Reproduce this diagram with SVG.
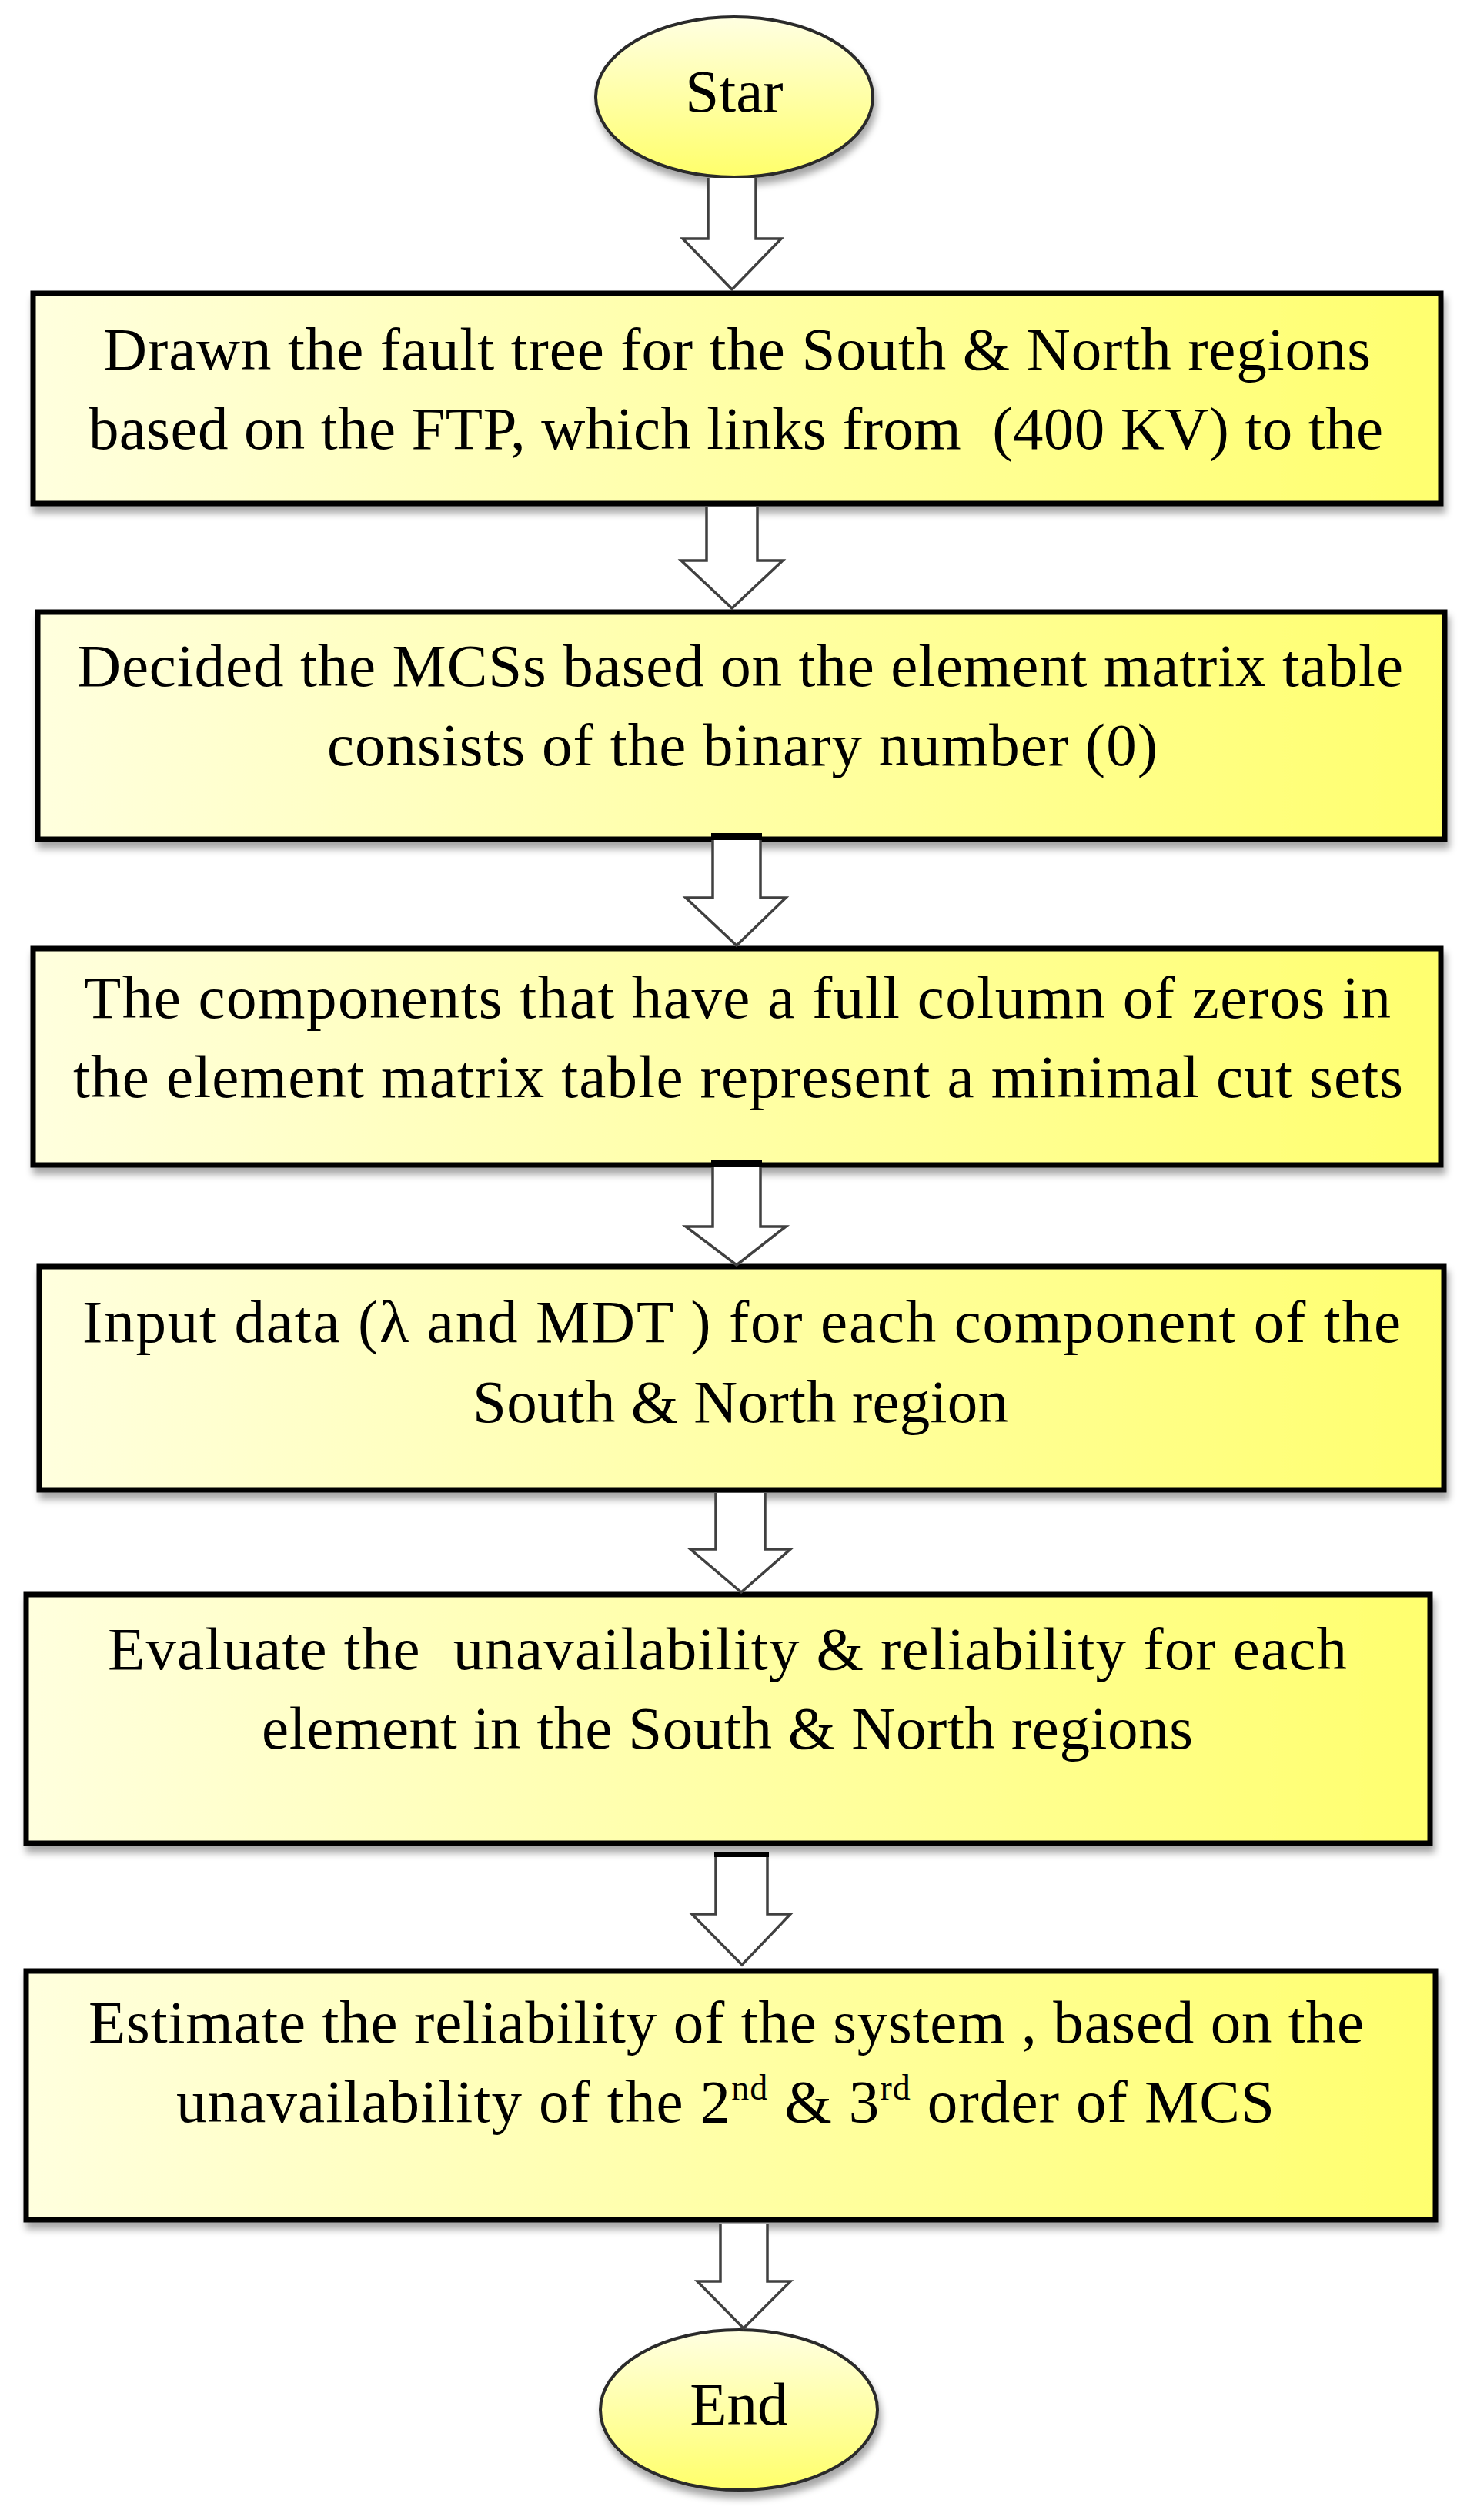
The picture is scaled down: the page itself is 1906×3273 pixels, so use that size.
<svg xmlns="http://www.w3.org/2000/svg" width="1906" height="3273" viewBox="0 0 1906 3273">
<style>
.box{stroke:#000;stroke-width:7;fill:url(#boxFill);filter:url(#shadow)}
.term{stroke:#2a2a2a;stroke-width:4;fill:url(#termFill);filter:url(#shadow)}
.t{font-family:"Liberation Serif","Times New Roman",serif;font-size:79px;fill:#000;text-anchor:middle}
.arrow{fill:#fff;stroke:#404040;stroke-width:3.5;stroke-linejoin:miter}
.cap{fill:#000}
</style>
<defs>
<linearGradient id="boxFill" x1="0" y1="0" x2="1" y2="0">
<stop offset="0" stop-color="#FFFFDE"/>
<stop offset="1" stop-color="#FFFF6E"/>
</linearGradient>
<linearGradient id="termFill" x1="0" y1="0" x2="0" y2="1">
<stop offset="0" stop-color="#FFFFE2"/>
<stop offset="1" stop-color="#FFFF6A"/>
</linearGradient>
<filter id="shadow" x="-5%" y="-10%" width="112%" height="130%">
<feDropShadow dx="3" dy="9" stdDeviation="5" flood-color="#000" flood-opacity="0.35"/>
</filter>
</defs>
<rect width="1906" height="3273" fill="#fff"/>

<g id="start">
<ellipse class="term" cx="954" cy="126" rx="180" ry="104"/>
<text class="t" x="954" y="145">Star</text>
</g>

<g id="step1">
<rect class="box" x="43" y="381" width="1829" height="273"/>
<text class="t" x="957.5" y="480" textLength="1647">Drawn the fault tree for the South &amp; North regions</text>
<text class="t" x="956" y="583" textLength="1682" xml:space="preserve">based on the FTP, which links from  (400 KV) to the</text>
</g>

<g id="step2">
<rect class="box" x="49" y="795" width="1828" height="295"/>
<text class="t" x="961.5" y="891" textLength="1723">Decided the MCSs based on the element matrix table</text>
<text class="t" x="964.5" y="994" textLength="1079">consists of the binary number (0)</text>
</g>

<g id="step3">
<rect class="box" x="43" y="1232" width="1829" height="281"/>
<text class="t" x="958" y="1322" textLength="1698">The components that have a full column of zeros in</text>
<text class="t" x="959" y="1425" textLength="1728">the element matrix table represent a minimal cut sets</text>
</g>

<g id="step4">
<rect class="box" x="51" y="1645" width="1825" height="290"/>
<text class="t" x="963.5" y="1743" textLength="1713">Input data (λ and MDT ) for each component of the</text>
<text class="t" x="962" y="1847" textLength="696">South &amp; North region</text>
</g>

<g id="step5">
<rect class="box" x="34" y="2071" width="1824" height="323"/>
<text class="t" x="945" y="2168" textLength="1610" xml:space="preserve">Evaluate the  unavailability &amp; reliability for each</text>
<text class="t" x="945" y="2271" textLength="1210">element in the South &amp; North regions</text>
</g>

<g id="step6">
<rect class="box" x="34" y="2560" width="1831" height="323"/>
<text class="t" x="943.5" y="2653" textLength="1657">Estimate the reliability of the system , based on the</text>
<text class="t" x="942.5" y="2756" textLength="1427">unavailability of the 2<tspan dy="-29" font-size="46">nd</tspan><tspan dy="29"> &amp; 3</tspan><tspan dy="-29" font-size="46">rd</tspan><tspan dy="29"> order of MCS</tspan></text>
</g>

<g id="end">
<ellipse class="term" cx="960" cy="3130" rx="180" ry="104"/>
<text class="t" x="960" y="3149">End</text>
</g>

<g id="connectors">
<path class="arrow" d="M920,231 L920,310 L887,310 L951,376 L1015,310 L982,310 L982,231"/>
<path class="arrow" d="M918,658 L918,728 L885,728 L951,790 L1017,728 L984,728 L984,658"/>
<path class="arrow" d="M926,1088 L926,1166 L891,1166 L957,1228 L1021,1166 L988,1166 L988,1088"/>
<rect class="cap" x="924" y="1082" width="66" height="9"/>
<path class="arrow" d="M926,1512 L926,1593 L891,1593 L957,1643 L1021,1593 L988,1593 L988,1512"/>
<rect class="cap" x="924" y="1507" width="66" height="9"/>
<path class="arrow" d="M930,1939 L930,2012 L897,2012 L963,2068 L1027,2012 L994,2012 L994,1939"/>
<path class="arrow" d="M930,2410 L930,2486 L899,2486 L964,2552 L1027,2486 L997,2486 L997,2410 Z"/>
<rect class="cap" x="928" y="2406" width="71" height="6"/>
<path class="arrow" d="M936,2888 L936,2963 L906,2963 L966,3024 L1027,2963 L997,2963 L997,2888"/>
</g>
</svg>
